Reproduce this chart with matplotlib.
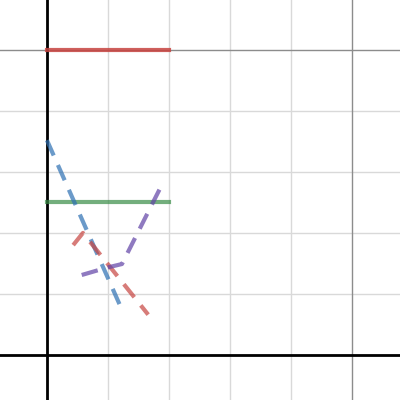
import matplotlib.pyplot as plt

# series
red_solid_x = [0, 2]
red_solid_y = [5, 5]
green_x = [0, 2]
green_y = [2.5, 2.5]
blue_x = [0, 1.23]
blue_y = [3.52, 0.74]
red_dash_x = [0.43, 0.59, 1.66]
red_dash_y = [1.8, 2.0, 0.66]
purple_x = [0.57, 0.98, 1.23, 1.89]
purple_y = [1.31, 1.43, 1.49, 2.8]

fig = plt.figure(figsize=(4, 4), dpi=100)
ax = fig.add_axes([0, 0, 1, 1])
ax.set_xlim(-0.77, 5.79)
ax.set_ylim(-0.74, 5.82)

for v in range(0, 6):
    c = '0.55' if v == 5 else '0.85'
    ax.axvline(v, color=c, lw=1, zorder=0)
    ax.axhline(v, color=c, lw=1, zorder=0)
ax.axvline(0, color='black', lw=2, zorder=1)
ax.axhline(0, color='black', lw=2, zorder=1)

ax.plot(red_solid_x, red_solid_y, color='#c74440', lw=3, alpha=0.85)
ax.plot(green_x, green_y, color='#388c46', lw=3, alpha=0.7)
ax.plot(blue_x, blue_y, color='#2d70b3', lw=3, alpha=0.7, ls=(0, (4, 2.5)))
ax.plot(red_dash_x, red_dash_y, color='#c74440', lw=3, alpha=0.7, ls=(0, (4, 2.5)))
ax.plot(purple_x, purple_y, color='#6042a6', lw=3, alpha=0.7, ls=(0, (4, 2.5)))

ax.axis('off')
fig.savefig('out.png')
